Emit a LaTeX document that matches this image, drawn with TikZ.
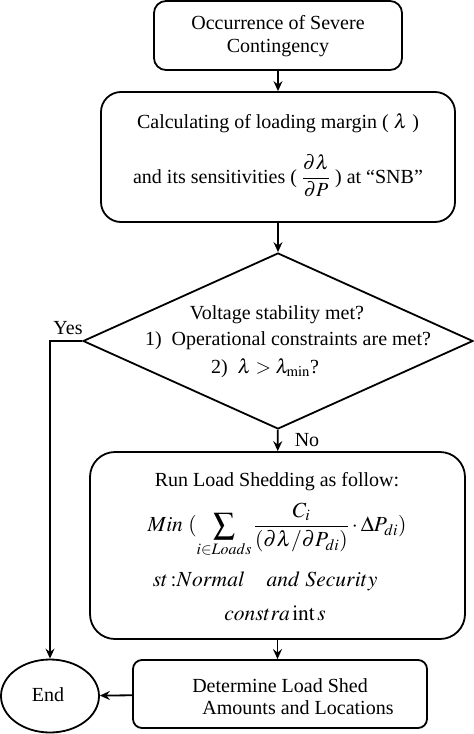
\documentclass[tikz,border=0pt]{standalone}
\usepackage{amsmath}
\usepackage{mathptmx}
\usepackage[no-math]{fontspec}
\setmainfont{Liberation Serif}
\usetikzlibrary{shapes.geometric,arrows.meta}
\begin{document}
\begin{tikzpicture}[x=1pt,y=-1pt,line width=1.8pt,
  >={Stealth[length=10pt,width=9pt,inset=3.5pt]},
  font=\fontsize{20}{23}\selectfont,
  shapebox/.style={draw,rectangle,inner sep=0pt},
  txt/.style={inner sep=0pt,align=center},
  bigmath/.style={inner sep=0pt,align=center,font=\fontsize{21.5}{25}\selectfont}]
\useasboundingbox (0,0) rectangle (474,734);
% boxes
\node[shapebox,rounded corners=12pt,minimum width=248pt,minimum height=69pt] (b1) at (278,35.5) {};
\node[shapebox,rounded corners=20pt,minimum width=354pt,minimum height=130pt] (b2) at (278,157) {};
\node[draw,diamond,inner sep=0pt,minimum width=390pt,minimum height=176pt] (d) at (278,341) {};
\node[shapebox,rounded corners=25pt,minimum width=375pt,minimum height=187pt] (b3) at (277.5,545.5) {};
\node[shapebox,rounded corners=9pt,minimum width=294pt,minimum height=68pt] (b4) at (280,694) {};
\node[draw,ellipse,inner sep=0pt,minimum width=98pt,minimum height=73pt] (e) at (50,696) {};
% texts
\node[txt] (t1) at (278,36.5) {Occurrence of Severe\\Contingency};
\node[txt] (t2) at (278,123) {Calculating of loading margin ( $\lambda$ )};
\node[txt] (t3) at (278,176) {and its sensitivities ( $\dfrac{\partial\lambda}{\partial P}$ ) at “SNB”};
\node[txt] (t4) at (277,315) {Voltage stability met?};
\node[txt] (t5) at (288,341) {1)\ \ Operational constraints are met?};
\node[txt] (t6) at (265,368) {2)\ \ $\lambda>\lambda_{\min}$?};
\node[txt] (t7) at (277,482) {Run Load Shedding as follow:};
\node[bigmath] (t8) at (277,530) {$\displaystyle Min\ (\sum_{i\in Loads}\frac{C_i}{(\partial\lambda/\partial P_{di})}\cdot\Delta P_{di})$};
\node[bigmath,anchor=west] (t9) at (152,581) {$st\,{:}Normal\quad and\ Security$};
\node[bigmath] (t10) at (275,613) {$constra\,\mathrm{int}\,s$};
\node[txt] (t11) at (280,686) {Determine Load Shed};
\node[txt] (t12) at (298,708) {Amounts and Locations};
\node[txt] (t13) at (48,695) {End};
\node[txt] (yes) at (68,328) {Yes};
\node[txt] (no) at (307,440) {No};
% connectors
\draw[->] (b1) -- (b2);
\draw[->] (b2) -- (d);
\draw[->] (d) -- (b3);
\draw[->] (b3.south) -- (b3.south |- b4.north);
\draw[->] (b4) -- (e);
\draw[->] (d.west) -| (e.north);
\end{tikzpicture}
\end{document}
